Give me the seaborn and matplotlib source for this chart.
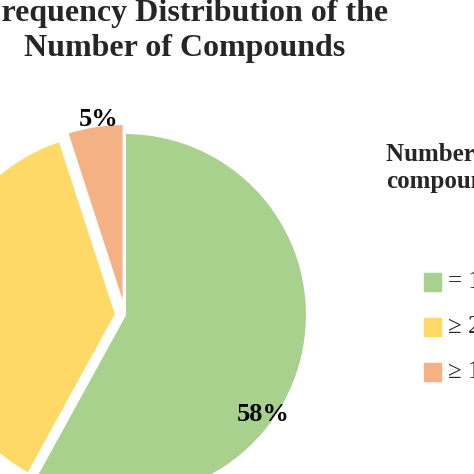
import matplotlib
matplotlib.use("Agg")
import matplotlib.pyplot as plt
import seaborn as sns

sns.set_theme(style="white")
plt.rcParams['font.family'] = ['Liberation Serif', 'DejaVu Serif']

categories = ["= 1", "≥ 2", "≥ 10"]
values = [58, 37, 5]
colors = ["#a9d18e", "#ffd966", "#f4b183"]

fig = plt.figure(figsize=(4.74, 4.74), dpi=100)
cx, cy, r = 125/474, 1 - 315/474, 182/474
ax = fig.add_axes([cx - r, cy - r, 2*r, 2*r])
wedges, texts, autotexts = ax.pie(values, colors=colors, startangle=90, counterclock=False,
       explode=[0, 0.05, 0.05], autopct='%d%%', pctdistance=0.8,
       wedgeprops=dict(edgecolor='white', linewidth=1.5),
       textprops=dict(fontsize=19, fontweight='bold', color='black'))
x2, y2 = autotexts[2].get_position()
autotexts[2].set_position((x2 * 1.1, y2 * 1.28))
x0, y0 = autotexts[0].get_position()
autotexts[0].set_position((x0 * 0.98, y0 - 0.35))
ax.set_xlim(-1, 1); ax.set_ylim(-1, 1)
ax.set_aspect('equal')
for w in wedges: w.set_clip_on(False)

fig.text(0.39, 0.935, "Frequency Distribution of the\nNumber of Compounds", ha='center', va='center',
         fontsize=23, fontweight='bold', linespacing=1.3)
fig.text(0.815, 0.645, "Number of\ncompounds", ha='left', va='center', fontsize=18,
         fontweight='bold', linespacing=1.2)
ys = [1 - 282/474, 1 - 327/474, 1 - 372/474]
for c, lab, y in zip(colors, categories, ys):
    fig.patches.append(plt.Rectangle((0.895, y - 0.02), 0.035, 0.04, transform=fig.transFigure,
                                     color=c, figure=fig))
    fig.text(0.945, y, lab, ha='left', va='center', fontsize=18)

fig.savefig("out.png", dpi=100)
